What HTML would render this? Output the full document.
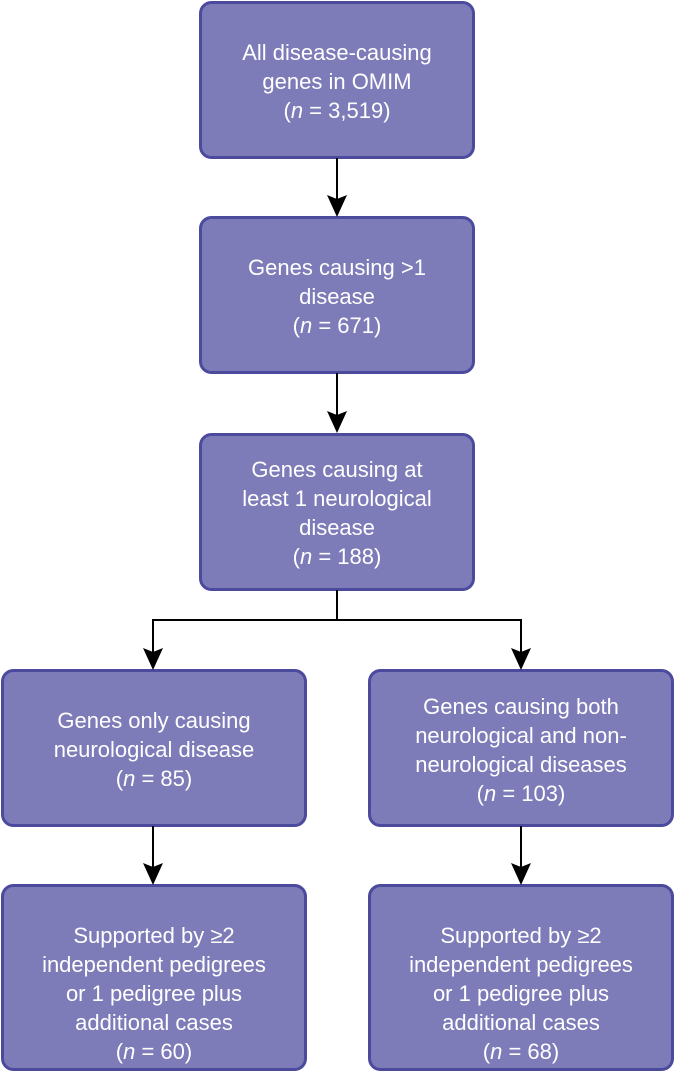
<!DOCTYPE html>
<html><head><meta charset="utf-8"><style>
html,body{margin:0;padding:0;background:#fff;}
svg text{font-family:"Liberation Sans",Arial,sans-serif;font-size:22px;fill:#fff;text-anchor:middle;}
</style></head><body>
<svg width="675" height="1073" viewBox="0 0 675 1073" xmlns="http://www.w3.org/2000/svg">
<g fill="#7d7bb8" stroke="#4b4a9c" stroke-width="3">
<rect x="200.5" y="2.5" width="273" height="155" rx="11"/>
<rect x="200.5" y="217.5" width="273" height="155" rx="11"/>
<rect x="200.5" y="434.5" width="273" height="155" rx="11"/>
<rect x="2.5" y="670.5" width="303" height="155" rx="11"/>
<rect x="369.5" y="670.5" width="303" height="155" rx="11"/>
<rect x="2.5" y="885.5" width="303" height="184" rx="11"/>
<rect x="369.5" y="885.5" width="303" height="184" rx="11"/>
</g>
<g stroke="#000" stroke-width="2" fill="none">
<line x1="337" y1="158" x2="337" y2="200"/>
<line x1="337" y1="373" x2="337" y2="417"/>
<polyline points="337,590 337,620 153,620 153,652"/>
<polyline points="337,620 521,620 521,652"/>
<line x1="153" y1="826" x2="153" y2="868"/>
<line x1="521" y1="826" x2="521" y2="868"/>
</g>
<g fill="#000">
<polygon points="327,195 337,199 347,195 337,217"/>
<polygon points="327,411 337,415 347,411 337,433"/>
<polygon points="143,648 153,652 163,648 153,670"/>
<polygon points="511,648 521,652 531,648 521,670"/>
<polygon points="143,863 153,867 163,863 153,885"/>
<polygon points="511,863 521,867 531,863 521,885"/>
</g>
<text x="337" y="60">All disease-causing</text>
<text x="337" y="89">genes in OMIM</text>
<text x="337" y="118">(<tspan font-style="italic">n</tspan> = 3,519)</text>
<text x="337" y="275">Genes causing &gt;1</text>
<text x="337" y="304">disease</text>
<text x="337" y="333">(<tspan font-style="italic">n</tspan> = 671)</text>
<text x="337" y="477">Genes causing at</text>
<text x="337" y="506">least 1 neurological</text>
<text x="337" y="535">disease</text>
<text x="337" y="564">(<tspan font-style="italic">n</tspan> = 188)</text>
<text x="154" y="728">Genes only causing</text>
<text x="154" y="757">neurological disease</text>
<text x="154" y="786">(<tspan font-style="italic">n</tspan> = 85)</text>
<text x="521" y="714">Genes causing both</text>
<text x="521" y="743">neurological and non-</text>
<text x="521" y="772">neurological diseases</text>
<text x="521" y="801">(<tspan font-style="italic">n</tspan> = 103)</text>
<text x="154" y="943">Supported by ≥2</text>
<text x="154" y="972">independent pedigrees</text>
<text x="154" y="1001">or 1 pedigree plus</text>
<text x="154" y="1030">additional cases</text>
<text x="154" y="1059">(<tspan font-style="italic">n</tspan> = 60)</text>
<text x="521" y="943">Supported by ≥2</text>
<text x="521" y="972">independent pedigrees</text>
<text x="521" y="1001">or 1 pedigree plus</text>
<text x="521" y="1030">additional cases</text>
<text x="521" y="1059">(<tspan font-style="italic">n</tspan> = 68)</text>
</svg>
</body></html>
